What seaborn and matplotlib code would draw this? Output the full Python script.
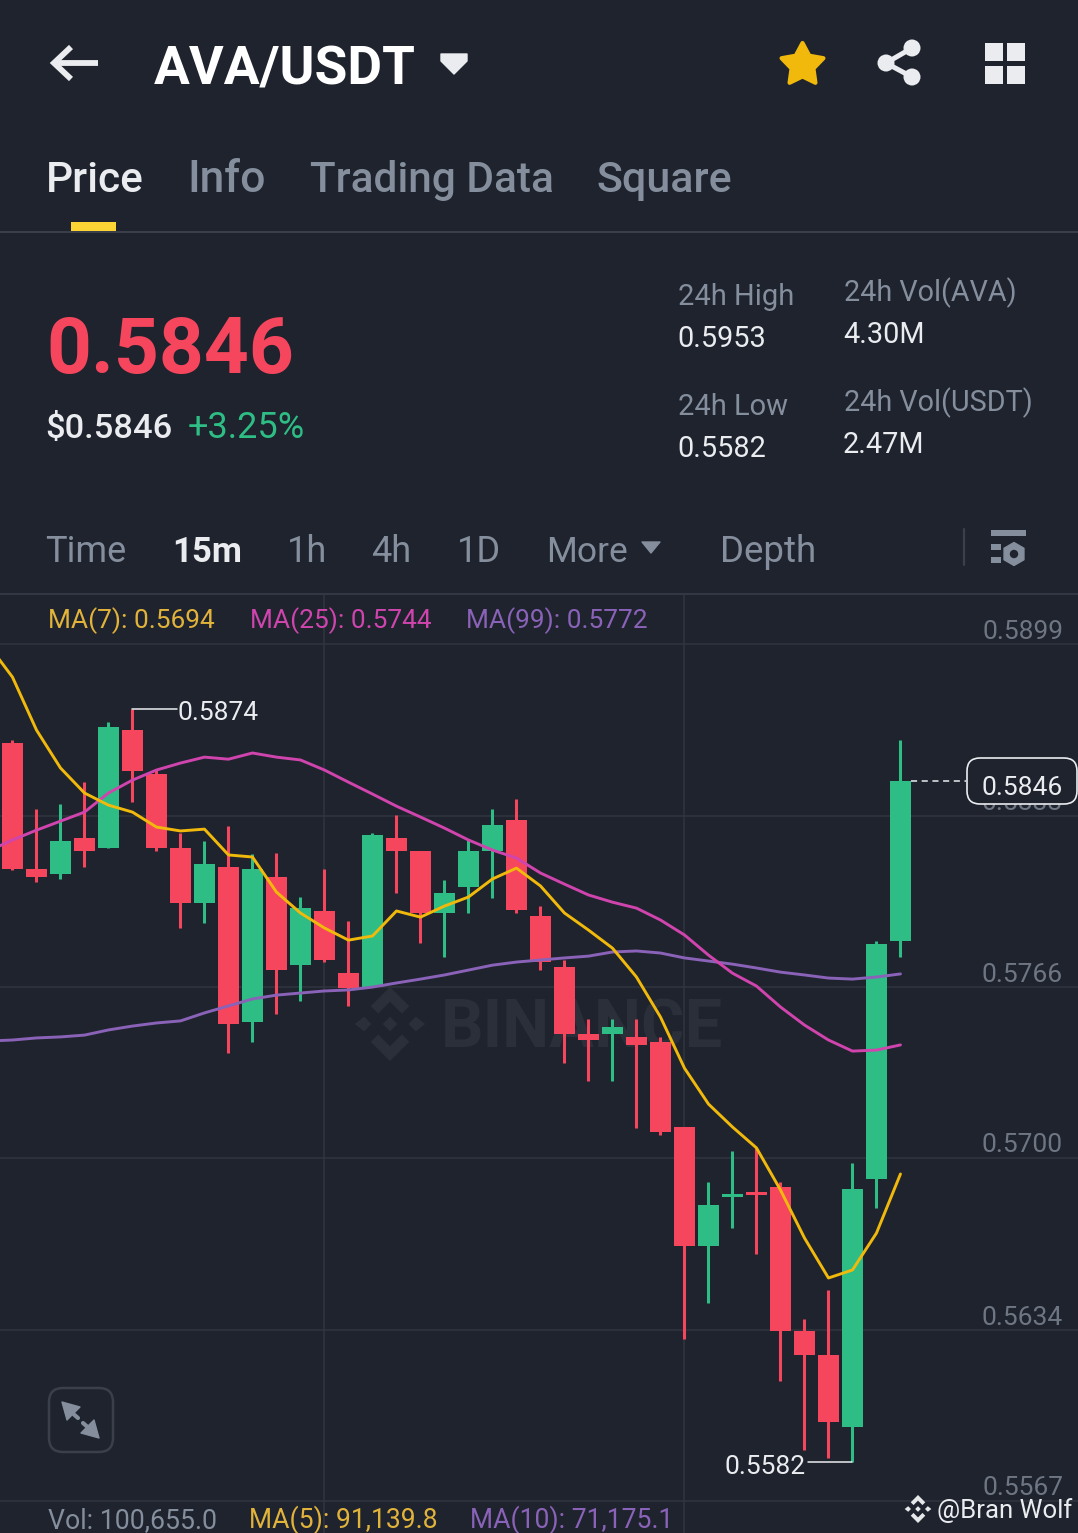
import numpy as np
import pandas as pd
import matplotlib.pyplot as plt
from matplotlib.patches import FancyBboxPatch, Polygon, Circle, Rectangle
import seaborn as sns

BG = "#1e232e"
GREEN = "#2ebd85"
RED = "#f6465d"
YELLOW = "#f0b90b"
MAGENTA = "#d044ad"
PURPLE = "#8a62b8"
GREY = "#848e9c"
AXIS_GREY = "#6f7683"
WHITE = "#eaecef"
GRID = "#30353f"
MARK = "#2a2f3a"

# candles, oldest first
open_ = [0.58606, 0.58118, 0.58099, 0.58238, 0.58200, 0.58657, 0.58486, 0.58200, 0.57987, 0.58126,
         0.57526, 0.58087, 0.57746, 0.57956, 0.57715, 0.57661, 0.58238, 0.58188, 0.57948, 0.58049,
         0.58188, 0.58308, 0.57936, 0.57739, 0.57479, 0.57479, 0.57468, 0.57448, 0.57119, 0.56658,
         0.56848, 0.56867, 0.56886, 0.56329, 0.56236, 0.55957, 0.56917, 0.57839]
close = [0.58118, 0.58087, 0.58227, 0.58188, 0.58668, 0.58498, 0.58200, 0.57987, 0.58138, 0.57518,
         0.58118, 0.57727, 0.57967, 0.57766, 0.57657, 0.58250, 0.58188, 0.57948, 0.58025, 0.58188,
         0.58289, 0.57960, 0.57758, 0.57479, 0.57456, 0.57506, 0.57437, 0.57100, 0.56658, 0.56817,
         0.56859, 0.56855, 0.56329, 0.56236, 0.55976, 0.56879, 0.57828, 0.58460]
high = [0.58618, 0.58351, 0.58370, 0.58455, 0.58688, 0.58740, 0.58506, 0.58258, 0.58227, 0.58285,
        0.58176, 0.58180, 0.58010, 0.58118, 0.57917, 0.58258, 0.58328, 0.58188, 0.58076, 0.58231,
        0.58351, 0.58390, 0.57975, 0.57766, 0.57537, 0.57537, 0.57537, 0.57468, 0.57119, 0.56906,
        0.57026, 0.57038, 0.56906, 0.56375, 0.56487, 0.56979, 0.57839, 0.58618]
low = [0.58115, 0.58068, 0.58080, 0.58126, 0.58200, 0.58378, 0.58188, 0.57890, 0.57909, 0.57406,
       0.57448, 0.57557, 0.57607, 0.57758, 0.57588, 0.57661, 0.58025, 0.57832, 0.57777, 0.57948,
       0.58006, 0.57948, 0.57727, 0.57367, 0.57297, 0.57297, 0.57115, 0.57088, 0.56298, 0.56437,
       0.56728, 0.56627, 0.56135, 0.55868, 0.55837, 0.55820, 0.56805, 0.57777]

# moving averages start one candle before the visible ones
ma7 = [0.58986, 0.58862, 0.58657, 0.58510, 0.58413, 0.58366, 0.58339, 0.58281, 0.58266, 0.58273,
       0.58173, 0.58165, 0.58029, 0.57948, 0.57890, 0.57843, 0.57859, 0.57956, 0.57932, 0.57975,
       0.58010, 0.58080, 0.58122, 0.58053, 0.57948, 0.57882, 0.57812, 0.57700, 0.57545, 0.57347,
       0.57208, 0.57119, 0.57038, 0.56875, 0.56689, 0.56534, 0.56565, 0.56708, 0.56937]
ma25 = [0.58188, 0.58231, 0.58269, 0.58304, 0.58339, 0.58413, 0.58463, 0.58502, 0.58529, 0.58552,
        0.58544, 0.58568, 0.58552, 0.58541, 0.58502, 0.58455, 0.58409, 0.58362, 0.58320, 0.58277,
        0.58231, 0.58192, 0.58161, 0.58103, 0.58060, 0.58018, 0.57990, 0.57967, 0.57921, 0.57863,
        0.57785, 0.57715, 0.57665, 0.57584, 0.57514, 0.57456, 0.57413, 0.57417, 0.57437]
ma99 = [0.57452, 0.57456, 0.57464, 0.57468, 0.57475, 0.57495, 0.57510, 0.57522, 0.57530, 0.57561,
        0.57588, 0.57615, 0.57630, 0.57638, 0.57646, 0.57650, 0.57661, 0.57677, 0.57692, 0.57708,
        0.57727, 0.57746, 0.57758, 0.57766, 0.57774, 0.57781, 0.57797, 0.57801, 0.57793, 0.57774,
        0.57762, 0.57750, 0.57735, 0.57719, 0.57708, 0.57696, 0.57692, 0.57700, 0.57712]

grid_prices = [0.58990, 0.58324, 0.57661, 0.56999, 0.56332, 0.55670]
grid_labels = ["0.5899", "0.5833", "0.5766", "0.5700", "0.5634", "0.5567"]
time_grid = [13, 28]
last_price = 0.58460

sns.set_theme(style="dark", rc={"axes.facecolor": BG, "figure.facecolor": BG, "savefig.facecolor": BG})
plt.rcParams["font.family"] = ["Roboto", "DejaVu Sans"]

W, H = 1078, 1533
fig = plt.figure(figsize=(W / 100, H / 100), dpi=100)

# price chart, pixel rows 594..1533
ax = fig.add_axes([0, 0, 1, (H - 594) / H])
ax.set_xlim(-0.52, 44.397)
ax.set_ylim(0.55546, 0.59184)
ax.set_xticks(time_grid)
ax.set_yticks(grid_prices)
ax.tick_params(length=0, labelbottom=False, labelleft=False)
ax.grid(True, color=GRID, lw=1.1)
ax.set_axisbelow(True)
for s in ax.spines.values():
    s.set_visible(False)

# ui layer in pixel coordinates, on top of the chart
ui = fig.add_axes([0, 0, 1, 1], facecolor="none")
ui.set_xlim(0, W)
ui.set_ylim(H, 0)
ui.axis("off")

df = pd.DataFrame({"open": open_, "close": close, "high": high, "low": low})
df["i"] = df.index
df["color"] = np.where(df["close"] >= df["open"], GREEN, RED)
ma = pd.DataFrame({"i": np.arange(-1, len(df)), "ma7": ma7, "ma25": ma25, "ma99": ma99})


def logo(target, cx, cy, r, color, zorder=1):
    # binance mark, r is half the width in pixels
    shapes = [
        [(0, -.2), (.2, 0), (0, .2), (-.2, 0)],
        [(-.7, -.2), (-.5, 0), (-.7, .2), (-.95, 0)],
        [(.7, -.2), (.95, 0), (.7, .2), (.5, 0)],
        [(0, -1), (.52, -.48), (.32, -.28), (0, -.6), (-.32, -.28), (-.52, -.48)],
        [(0, 1), (.52, .48), (.32, .28), (0, .6), (-.32, .28), (-.52, .48)],
    ]
    for pts in shapes:
        xy = [(cx + r * a, cy + r * b) for a, b in pts]
        target.add_patch(Polygon(xy, closed=True, fc=color, ec="none", zorder=zorder, transform=ui.transData))


# watermark goes under the candles
logo(ax, 390, 1024, 37, MARK)
ax.text(441 / W, (H - 1030) / (H - 594), "BINANCE", transform=ax.transAxes, fontsize=48, fontweight="bold",
        color=MARK, zorder=1, va="center")

ax.vlines(df["i"], df["low"], df["high"], colors=df["color"], lw=2.2, zorder=3)
ax.bar(df["i"], (df["close"] - df["open"]).abs(), bottom=df[["open", "close"]].min(axis=1),
       width=0.875, color=df["color"], edgecolor="none", zorder=4)

sns.lineplot(data=ma, x="i", y="ma99", ax=ax, color=PURPLE, lw=2.1, zorder=5, legend=False)
sns.lineplot(data=ma, x="i", y="ma25", ax=ax, color=MAGENTA, lw=2.1, zorder=6, legend=False)
sns.lineplot(data=ma, x="i", y="ma7", ax=ax, color=YELLOW, lw=2.1, zorder=7, legend=False)
ax.set_xlabel("")
ax.set_ylabel("")

# high / low callouts
hi_i = int(np.argmax(high))
lo_i = int(np.argmin(low))
ax.plot([hi_i, hi_i + 1.85], [high[hi_i], high[hi_i]], color=WHITE, lw=1.1, zorder=8)
ax.text(hi_i + 1.86, high[hi_i] - 0.00016, f"{high[hi_i]:.4f}", color=WHITE, fontsize=19, va="center", zorder=8)
ax.plot([lo_i, lo_i - 1.85], [low[lo_i], low[lo_i]], color=WHITE, lw=1.1, zorder=8)
ax.text(lo_i - 1.95, low[lo_i] - 0.0002, f"{low[lo_i]:.4f}", color=WHITE, fontsize=19, va="center", ha="right", zorder=8)

# last price line
ax.plot([37.45, 39.75], [last_price, last_price], color=WHITE, lw=1.1, ls=(0, (4, 3)), zorder=8)

# price labels sit just above their grid lines
for price, lab in zip(grid_prices, grid_labels):
    ax.annotate(lab, xy=(1063 / W, price), xycoords=ax.get_yaxis_transform(), xytext=(0, 0.4),
                textcoords="offset points", ha="right", va="bottom", color=AXIS_GREY, fontsize=19, zorder=2)


def txt(x, y, s, size, color=GREY, ha="left", weight="normal"):
    ui.text(x, y, s, fontsize=size, color=color, ha=ha, va="baseline", fontweight=weight)


def poly(pts, color):
    ui.add_patch(Polygon(pts, closed=True, fc=color, ec=color, lw=1, joinstyle="round"))


# last price box
ui.add_patch(FancyBboxPatch((967, 758), 110, 46, boxstyle="round,pad=0,rounding_size=13", fc=BG, ec=WHITE, lw=1.2))
txt(1063, 795, f"{last_price:.4f}", 19, WHITE, ha="right")

# header
ui.plot([54, 98], [63, 63], color=WHITE, lw=4.2, solid_capstyle="butt")
ui.plot([71, 54, 71], [47, 63, 79], color=WHITE, lw=4.2, solid_joinstyle="miter", solid_capstyle="butt")
txt(154, 84, "AVA/USDT", 38.3, "white", weight="bold")
poly([(441, 54), (467, 54), (467, 61), (454, 74), (441, 61)], WHITE)

ang = np.pi / 2 + np.arange(10) * np.pi / 5
rad = np.where(np.arange(10) % 2 == 0, 22, 11.5)
poly(np.column_stack([802.5 - rad * np.cos(ang), 65 - rad * np.sin(ang)]), YELLOW)
ui.patches[-1].set_linewidth(3)

ui.plot([912, 886, 912], [48, 63, 77], color=WHITE, lw=3.6)
for cx, cy in [(912, 48), (886, 63), (912, 77)]:
    ui.add_patch(Circle((cx, cy), 8.5, fc=WHITE, ec="none"))
for x0, y0 in [(985, 43), (1007, 43), (985, 66), (1007, 66)]:
    ui.add_patch(Rectangle((x0, y0), 18, 18, fc=WHITE, ec="none"))

# tabs
txt(46, 192, "Price", 30.5, WHITE, weight="medium")
txt(187, 192, "Info", 32, GREY, weight="medium")
txt(310, 192, "Trading Data", 30.5, GREY, weight="medium")
txt(597, 192, "Square", 31, GREY, weight="medium")
ui.add_patch(Rectangle((71, 222), 45, 9, fc="#fcd535", ec="none"))
ui.plot([0, W], [232, 232], color="#3a3f4a", lw=1.4)
ui.plot([0, W], [594, 594], color="#333844", lw=1.4)

# price block
txt(46, 373, "0.5846", 56.5, RED, weight="bold")
txt(45, 438, "$0.5846", 24.8, WHITE, weight="medium")
txt(188, 438, "+3.25%", 26, GREEN)
txt(678, 305, "24h High", 21, GREY)
txt(677, 347, "0.5953", 20.8, WHITE)
txt(678, 415, "24h Low", 21, GREY)
txt(677, 457, "0.5582", 20.8, WHITE)
txt(844, 301, "24h Vol(AVA)", 20.7, GREY)
txt(843, 343, "4.30M", 20.8, WHITE)
txt(844, 411, "24h Vol(USDT)", 20.7, GREY)
txt(843, 453, "2.47M", 20.8, WHITE)

# interval row
txt(45, 562, "Time", 26, GREY)
txt(172, 562, "15m", 25, WHITE, weight="bold")
txt(287, 562, "1h", 26, GREY)
txt(371, 562, "4h", 26, GREY)
txt(457, 562, "1D", 26, GREY)
txt(546, 562, "More", 25.5, GREY)
poly([(642, 542), (660, 542), (651, 553)], GREY)
txt(720, 562, "Depth", 26.5, GREY)
ui.plot([963.5, 963.5], [529, 565], color="#3a3f4a", lw=1.6)
ui.add_patch(Rectangle((991, 530), 35, 6, fc=GREY, ec="none"))
ui.add_patch(Rectangle((991, 544), 10, 6, fc=GREY, ec="none"))
ui.add_patch(Rectangle((991, 557), 10, 6, fc=GREY, ec="none"))
hex_a = np.pi / 6 + np.arange(6) * np.pi / 3
poly(np.column_stack([1014 + 11.5 * np.cos(hex_a), 554 + 11.5 * np.sin(hex_a)]), GREY)
ui.add_patch(Circle((1014, 554), 4.2, fc=BG, ec="none"))

# indicator legends
txt(48, 628, "MA(7): 0.5694", 18.9, "#e2b33a")
txt(250, 628, "MA(25): 0.5744", 18.9, MAGENTA)
txt(466, 628, "MA(99): 0.5772", 18.9, PURPLE)
txt(48, 1528, "Vol: 100,655.0", 19.2, GREY)
txt(249, 1528, "MA(5): 91,139.8", 19.1, "#e2b33a")
txt(470, 1528, "MA(10): 71,175.1", 19.1, PURPLE)

# expand button
ui.add_patch(FancyBboxPatch((49, 1388), 64, 64, boxstyle="round,pad=0,rounding_size=14", fc="none", ec="#3a3f4a", lw=1.8))
poly([(62, 1402), (80, 1407), (67, 1420)], GREY)
poly([(99, 1438), (81, 1433), (94, 1420)], GREY)
ui.plot([70, 78], [1411, 1418], color=GREY, lw=3)
ui.plot([83, 91], [1423, 1430], color=GREY, lw=3)

# author mark
logo(ui, 918, 1509, 14, "#e6e8ea", zorder=5)
txt(937, 1518, "@Bran Wolf", 18.5, WHITE)

fig.savefig("out.png", dpi=100)
plt.close(fig)
